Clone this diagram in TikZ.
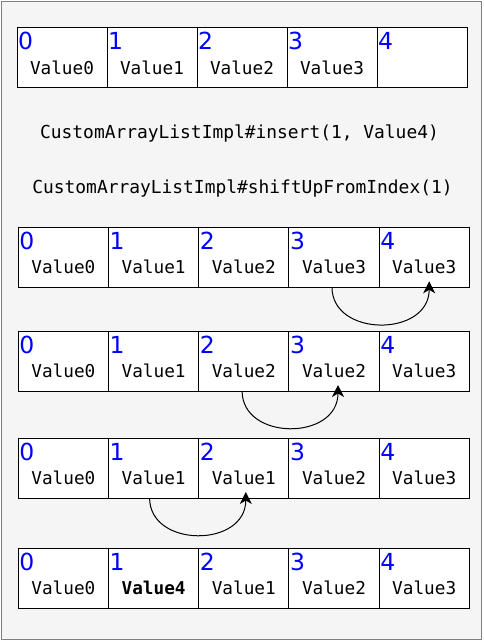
\documentclass[tikz,border=0pt]{standalone}
\usepackage{fontspec}
\setmainfont{DejaVu Sans}
\newfontfamily\monof{DejaVu Sans Mono}
\usetikzlibrary{arrows.meta}
\definecolor{bgfill}{HTML}{F5F5F5}
\definecolor{bgline}{HTML}{808080}
\begin{document}
\begin{tikzpicture}[x=1pt,y=-1pt,
  cell/.style={draw=black, line width=1pt, fill=white, minimum width=90.2pt, minimum height=60pt, inner sep=0pt, outer sep=0pt, anchor=north west},
  idx/.style={text=blue, font=\fontsize{23.5}{24}\selectfont, anchor=base west, inner sep=0pt},
  val/.style={font=\monof\fontsize{17.7}{18}\selectfont, anchor=base, inner sep=0pt},
  ttl/.style={font=\monof\fontsize{17.9}{18}\selectfont, anchor=base, inner sep=0pt},
  arr/.style={-{Stealth[length=12pt,width=12pt,inset=3.5pt]}, line width=1pt, black}]
\useasboundingbox (0,0) rectangle (483,641);
\node[draw=bgline, line width=1pt, fill=bgfill, minimum width=480pt, minimum height=638pt, inner sep=0pt, anchor=north west] (bg) at (1,1) {};
% row 1
\foreach \c/\v in {0/Value0,1/Value1,2/Value2,3/Value3,4/} {
  \node[cell, minimum width=90pt] (r1c\c) at (17+90*\c,27.5) {};
  \node[idx] (r1i\c) at ([xshift=1pt,yshift=-22pt]r1c\c.north west) {\c};
}
\foreach \c/\v in {0/Value0,1/Value1,2/Value2,3/Value3} {
  \node[val] (r1v\c) at ([yshift=-46.5pt]r1c\c.north) {\v};
}
% rows 2-5
\foreach \r/\y/\va/\vb/\vc/\vd/\ve in {
  2/227.3/Value0/Value1/Value2/Value3/Value3,
  3/331/Value0/Value1/Value2/Value2/Value3,
  4/438/Value0/Value1/Value1/Value2/Value3,
  5/548/Value0/\textbf{Value4}/Value1/Value2/Value3} {
  \foreach \c/\v in {0/\va,1/\vb,2/\vc,3/\vd,4/\ve} {
    \node[cell] (r\r c\c) at (18.3+90.2*\c,\y) {};
    \node[idx] (r\r i\c) at ([xshift=1pt,yshift=-22pt]r\r c\c.north west) {\c};
    \node[val] (r\r v\c) at ([yshift=-46.5pt]r\r c\c.north) {\v};
  }
}
\node[ttl] (t1) at (239.5,138.3) {CustomArrayListImpl\#insert(1, Value4)};
\node[ttl] (t2) at (242.5,193.3) {CustomArrayListImpl\#shiftUpFromIndex(1)};
% arrows
\coordinate (a1s) at ([xshift=-2pt]r2c3.south);
\coordinate (a1e) at ([xshift=5pt,yshift=6pt]r2c4.south);
\draw[arr] (a1s) .. controls +(0,50) and +(0,56) .. (a1e);
\coordinate (a2s) at ([xshift=-1.7pt]r3c2.south);
\coordinate (a2e) at ([xshift=4pt,yshift=6pt]r3c3.south);
\draw[arr] (a2s) .. controls +(0,50) and +(0,56) .. (a2e);
\coordinate (a3s) at ([xshift=-4pt]r4c1.south);
\coordinate (a3e) at ([xshift=2pt,yshift=6pt]r4c2.south);
\draw[arr] (a3s) .. controls +(0,50) and +(0,56) .. (a3e);
\end{tikzpicture}
\end{document}
